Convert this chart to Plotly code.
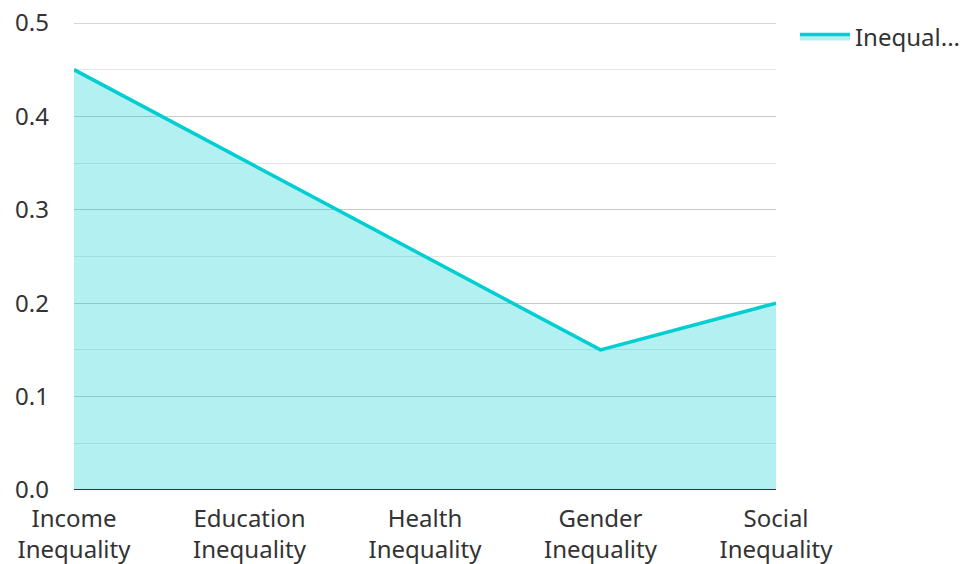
import plotly.graph_objects as go

categories = ["Income<br>Inequality", "Education<br>Inequality", "Health<br>Inequality",
              "Gender<br>Inequality", "Social<br>Inequality"]
values = [0.45, 0.35, 0.25, 0.15, 0.2]
series_name = "Inequal..."

fig = go.Figure()
fig.add_trace(go.Scatter(
    x=categories, y=values, name=series_name, mode="lines",
    line=dict(color="#00CED1", width=3.5),
    fill="tozeroy", fillcolor="rgba(0,206,209,0.3)",
))

font = "Noto Sans, Open Sans, sans-serif"
fig.update_layout(
    width=971, height=564,
    margin=dict(l=66, r=203, t=0, b=82),
    paper_bgcolor="white", plot_bgcolor="white",
    font=dict(family=font, size=24, color="#333"),
    showlegend=True,
    legend=dict(x=1.027, y=0.940, xanchor="left", yanchor="middle",
                font=dict(size=24, color="#333"), itemwidth=50),
    xaxis=dict(range=[0, 4], showgrid=False, showline=False, zeroline=False,
               automargin=False, ticklabelstandoff=12,
               tickfont=dict(size=24, color="#333"), ticks=""),
    yaxis=dict(range=[0, 0.5], dtick=0.1, tickformat=".1f", domain=[0, 0.969],
               showgrid=True, gridcolor="#c8c8c8", gridwidth=1,
               minor=dict(dtick=0.05, showgrid=True, gridcolor="#e6e6e6", gridwidth=1),
               zeroline=False, showline=False, automargin=False,
               ticklabelstandoff=24, ticklabeloverflow="allow",
               tickfont=dict(size=24, color="#333")),
)
fig.add_shape(type="line", xref="paper", yref="y", x0=0, x1=1, y0=0.5, y1=0.5,
              line=dict(color="#c8c8c8", width=1.5), layer="below")
fig.add_shape(type="line", xref="paper", yref="y", x0=0, x1=1, y0=0, y1=0,
              line=dict(color="#333", width=2))
fig.write_html("out.html")
